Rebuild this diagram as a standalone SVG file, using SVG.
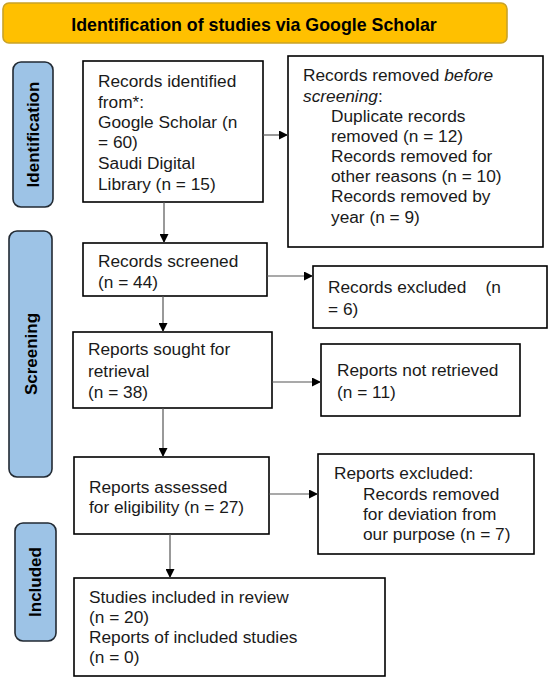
<svg xmlns="http://www.w3.org/2000/svg" width="550" height="679" viewBox="0 0 550 679">
<defs>
<style>
.box{fill:#fff;stroke:#000;stroke-width:1.6}
.lab{fill:#9DC3E6;stroke:#222a33;stroke-width:1.6}
.t{font-family:"Liberation Sans",Arial,sans-serif;font-size:17.3px;fill:#1a1a1a}
.b{font-family:"Liberation Sans",Arial,sans-serif;font-size:17px;font-weight:bold;fill:#000}
.c{stroke:#555;stroke-width:1.2;fill:none}
</style>
<marker id="ah" viewBox="0 0 10 10" refX="10" refY="5" markerWidth="10" markerHeight="9" markerUnits="userSpaceOnUse" orient="auto">
<path d="M0,0 L10,5 L0,10 z" fill="#000"/>
</marker>
</defs>
<rect width="550" height="679" fill="#fff"/>
<g id="title">
<rect x="3" y="3" width="504" height="40" rx="6" fill="#FFC000" stroke="#C9A227" stroke-width="1.6"/>
<text class="b" x="254" y="31" text-anchor="middle" style="font-size:17.8px">Identification of studies via Google Scholar</text>
</g>
<g id="lab-identification">
<rect class="lab" x="13" y="62" width="40" height="145" rx="8"/>
<text class="b" transform="translate(39,134.5) rotate(-90)" text-anchor="middle">Identification</text>
</g>
<g id="lab-screening">
<rect class="lab" x="9" y="231" width="43" height="246" rx="8"/>
<text class="b" transform="translate(37,354) rotate(-90)" text-anchor="middle">Screening</text>
</g>
<g id="lab-included">
<rect class="lab" x="15" y="523" width="41" height="118" rx="8"/>
<text class="b" transform="translate(41,582) rotate(-90)" text-anchor="middle">Included</text>
</g>
<g id="n-identified">
<rect class="box" x="83" y="61" width="180" height="141"/>
<text class="t" x="98" y="87">Records identified</text>
<text class="t" x="98" y="107.5">from*:</text>
<text class="t" x="98" y="127.5">Google Scholar (n</text>
<text class="t" x="98" y="147.5">= 60)</text>
<text class="t" x="98" y="168.5">Saudi Digital</text>
<text class="t" x="98" y="189.5">Library (n = 15)</text>
</g>
<g id="n-removed">
<rect class="box" x="288" y="56" width="255" height="191"/>
<text class="t" x="303" y="81">Records removed <tspan font-style="italic">before</tspan></text>
<text class="t" x="303" y="102"><tspan font-style="italic">screening</tspan>:</text>
<text class="t" x="331" y="122">Duplicate records</text>
<text class="t" x="331" y="142">removed (n = 12)</text>
<text class="t" x="331" y="162">Records removed for</text>
<text class="t" x="331" y="182">other reasons (n = 10)</text>
<text class="t" x="331" y="202">Records removed by</text>
<text class="t" x="331" y="223">year (n = 9)</text>
</g>
<g id="n-screened">
<rect class="box" x="83" y="243" width="184" height="53"/>
<text class="t" x="98" y="267">Records screened</text>
<text class="t" x="98" y="288">(n = 44)</text>
</g>
<g id="n-excluded">
<rect class="box" x="313" y="266" width="234" height="62"/>
<text class="t" x="328" y="293" xml:space="preserve">Records excluded    (n</text>
<text class="t" x="328" y="315">= 6)</text>
</g>
<g id="n-sought">
<rect class="box" x="73" y="332" width="199" height="76"/>
<text class="t" x="88" y="355">Reports sought for</text>
<text class="t" x="88" y="377">retrieval</text>
<text class="t" x="88" y="398">(n = 38)</text>
</g>
<g id="n-notretrieved">
<rect class="box" x="321" y="344" width="199" height="72"/>
<text class="t" x="337" y="376">Reports not retrieved</text>
<text class="t" x="337" y="398">(n = 11)</text>
</g>
<g id="n-assessed">
<rect class="box" x="74" y="457" width="195" height="77"/>
<text class="t" x="89" y="493">Reports assessed</text>
<text class="t" x="89" y="513">for eligibility (n = 27)</text>
</g>
<g id="n-reportsexcluded">
<rect class="box" x="318" y="454" width="216" height="100"/>
<text class="t" x="334" y="479">Reports excluded:</text>
<text class="t" x="363" y="500">Records removed</text>
<text class="t" x="363" y="520">for deviation from</text>
<text class="t" x="363" y="540">our purpose (n = 7)</text>
</g>
<g id="n-included">
<rect class="box" x="74" y="578" width="311" height="98"/>
<text class="t" x="89" y="603">Studies included in review</text>
<text class="t" x="89" y="623">(n = 20)</text>
<text class="t" x="89" y="643">Reports of included studies</text>
<text class="t" x="89" y="663">(n = 0)</text>
</g>
<g id="connectors">
<line class="c" x1="263" y1="135" x2="288" y2="135" marker-end="url(#ah)"/>
<line class="c" x1="164" y1="202" x2="164" y2="243" marker-end="url(#ah)"/>
<line class="c" x1="267" y1="276" x2="313" y2="276" marker-end="url(#ah)"/>
<line class="c" x1="163" y1="296" x2="163" y2="332" marker-end="url(#ah)"/>
<line class="c" x1="272" y1="382" x2="321" y2="382" marker-end="url(#ah)"/>
<line class="c" x1="163" y1="408" x2="163" y2="457" marker-end="url(#ah)"/>
<line class="c" x1="269" y1="494" x2="318" y2="494" marker-end="url(#ah)"/>
<line class="c" x1="170" y1="534" x2="170" y2="578" marker-end="url(#ah)"/>
</g>
</svg>
